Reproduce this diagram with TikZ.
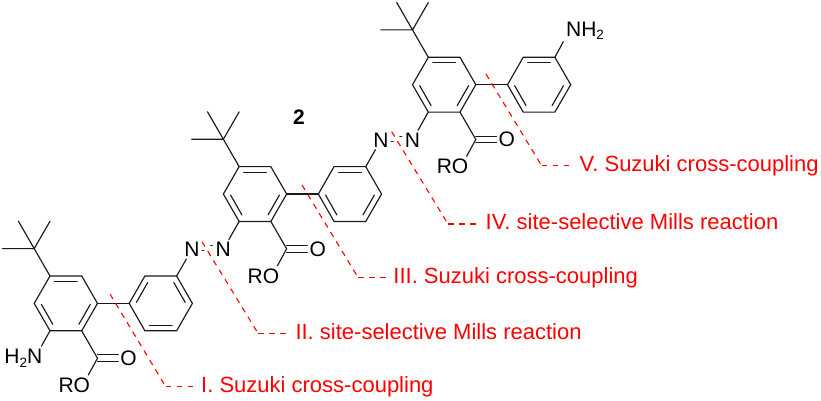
\documentclass[tikz,border=0pt]{standalone}
\usepackage{fontspec}
\setmainfont{Liberation Sans}
\usetikzlibrary{calc}
\tikzset{
 x=1pt,y=-1pt,
 bond/.style={draw=black!90,line width=1.15pt,line cap=round},
 atom/.style={inner sep=0pt,outer sep=2.5pt,font=\fontsize{21}{22}\selectfont,text=black},
 cut/.style={draw=red,line width=1.1pt,dash pattern=on 5.7pt off 5.3pt},
 lab/.style={inner sep=0pt,anchor=base west,text=red,font=\fontsize{22}{24}\selectfont},
}
\newcommand{\subtwo}{\raisebox{-0.3ex}{\fontsize{13.5}{14}\selectfont 2}}
% #1 shift x, #2 shift y, #3 prefix
\newcommand{\corering}[3]{%
 \begin{scope}[shift={(#1,#2)}]
  \coordinate (#3a) at (50,276);
  \coordinate (#3b) at (81.7,276);
  \coordinate (#3c) at (97.5,303.4);
  \coordinate (#3d) at (81.7,330.8);
  \coordinate (#3e) at (50,330.8);
  \coordinate (#3f) at (34.2,303.4);
  \coordinate (#3q) at (34.2,248.6);
  \coordinate (#3m) at (18.4,221.2);
  \coordinate (#3n) at (50,221.2);
  \coordinate (#3p) at (2.5,248.6);
  \coordinate (#3g) at (129.2,303.4);
  \coordinate (#3h) at (144.9,276);
  \coordinate (#3i) at (176.6,276);
  \coordinate (#3j) at (192.4,303.4);
  \coordinate (#3k) at (176.6,330.8);
  \coordinate (#3l) at (144.9,330.8);
  \coordinate (#3s) at (97.5,358.2);
  \coordinate (#3u) at (88.3,375);
  \node[atom] (#3O) at (128.6,358.2) {O};
  \node[atom,anchor=east] (#3RO) at (92.5,385.4) {RO};
  \draw[bond] (#3a)--(#3b)--(#3c)--(#3d)--(#3e)--(#3f)--cycle;
  \draw[bond] (#3q)--(#3a) (#3q)--(#3m) (#3q)--(#3n) (#3q)--(#3p);
  \draw[bond] (#3c)--(#3g);
  \draw[bond] (#3g)--(#3h)--(#3i)--(#3j)--(#3k)--(#3l)--cycle;
  \draw[bond] (54.5,281.5)--(77.2,281.5);
  \draw[bond] (90.3,304.4)--(78.9,324.3);
  \draw[bond] (41.4,304.4)--(52.8,324.3);
  \draw[bond] (#3d)--(#3s);
  \draw[bond] (97.5,354.9)--(118.3,354.9);
  \draw[bond] (97.5,361.5)--(118.3,361.5);
  \draw[bond] (#3s)--(#3u);
 \end{scope}}
\begin{document}
\begin{tikzpicture}
\useasboundingbox (0,0) rectangle (821,400);
\corering{0}{0}{A}
\corering{189.15}{-109.35}{B}
\corering{378.3}{-218.7}{C}
% inner bonds of the outer ring, first block
\draw[bond] (136.4,302.4)--(147.7,282.5);
\draw[bond] (173.8,282.5)--(185.2,302.4);
\draw[bond] (149.4,325.3)--(172.1,325.3);
% second and third block
\foreach \dx/\dy in {189.15/-109.35,378.3/-218.7}{
 \begin{scope}[shift={(\dx,\dy)}]
 \draw[bond] (136.4,304.4)--(147.7,324.3);
 \draw[bond] (149.4,281.5)--(172.1,281.5);
 \draw[bond] (185.2,304.4)--(173.8,324.3);
 \end{scope}}
% nitrogen parts
\node[atom,anchor=east] (nh2a) at (44.8,358.2) {H\subtwo N};
\coordinate (nh2ab) at (41.5,346);
\draw[bond] (Ae)--(nh2ab);
\node[atom] (n1) at (191.9,249.4) {N};
\node[atom] (n2) at (223.3,249.4) {N};
\draw[bond] (Ai)--(n1);
\draw[bond] (Be)--(n2);
\node[atom] (n3) at (381,140) {N};
\node[atom] (n4) at (412.5,140) {N};
\draw[bond] (Bi)--(n3);
\draw[bond] (Ce)--(n4);
\node[atom,anchor=west] (nh2c) at (563.6,30.5) {NH\subtwo};
\coordinate (nh2cb) at (563.3,41.7);
\draw[bond] (Ci)--(nh2cb);
\draw[bond,line width=0.8pt] (202,250.8)--(204,250.8) (210.5,245.8)--(212.5,245.8);
\draw[bond,line width=0.8pt] (391.2,141.4)--(393.2,141.4) (399.7,136.4)--(401.7,136.4);
\node[inner sep=0pt,font=\fontsize{21}{22}\selectfont\bfseries] (two) at (299,117.3) {2};
% cut lines
\coordinate (c1) at (110,294); \coordinate (c2) at (165.7,386.6); \coordinate (c3) at (194,386.6);
\coordinate (d1) at (202,241.7); \coordinate (d2) at (258.3,333.7); \coordinate (d3) at (286.5,333.7);
\coordinate (e1) at (302,185); \coordinate (e2) at (358,277.3); \coordinate (e3) at (386.5,277.3);
\coordinate (f1) at (391.7,131.7); \coordinate (f2) at (448,224); \coordinate (f3) at (476.5,224);
\coordinate (g1) at (486,74); \coordinate (g2) at (541.7,165.8); \coordinate (g3) at (570.5,165.8);
\foreach \p in {c,d,e,f,g}{
 \draw[cut] (\p1)--(\p2);
 \draw[cut] (\p2)--(\p3);
}
\node[lab] (l1) at (201,392) {I. Suzuki cross-coupling};
\node[lab] (l2) at (295.3,339) {II. site-selective Mills reaction};
\node[lab] (l3) at (393.2,283) {III. Suzuki cross-coupling};
\node[lab] (l4) at (485.5,229.5) {IV. site-selective Mills reaction};
\node[lab] (l5) at (579.5,171.5) {V. Suzuki cross-coupling};
\end{tikzpicture}
\end{document}
